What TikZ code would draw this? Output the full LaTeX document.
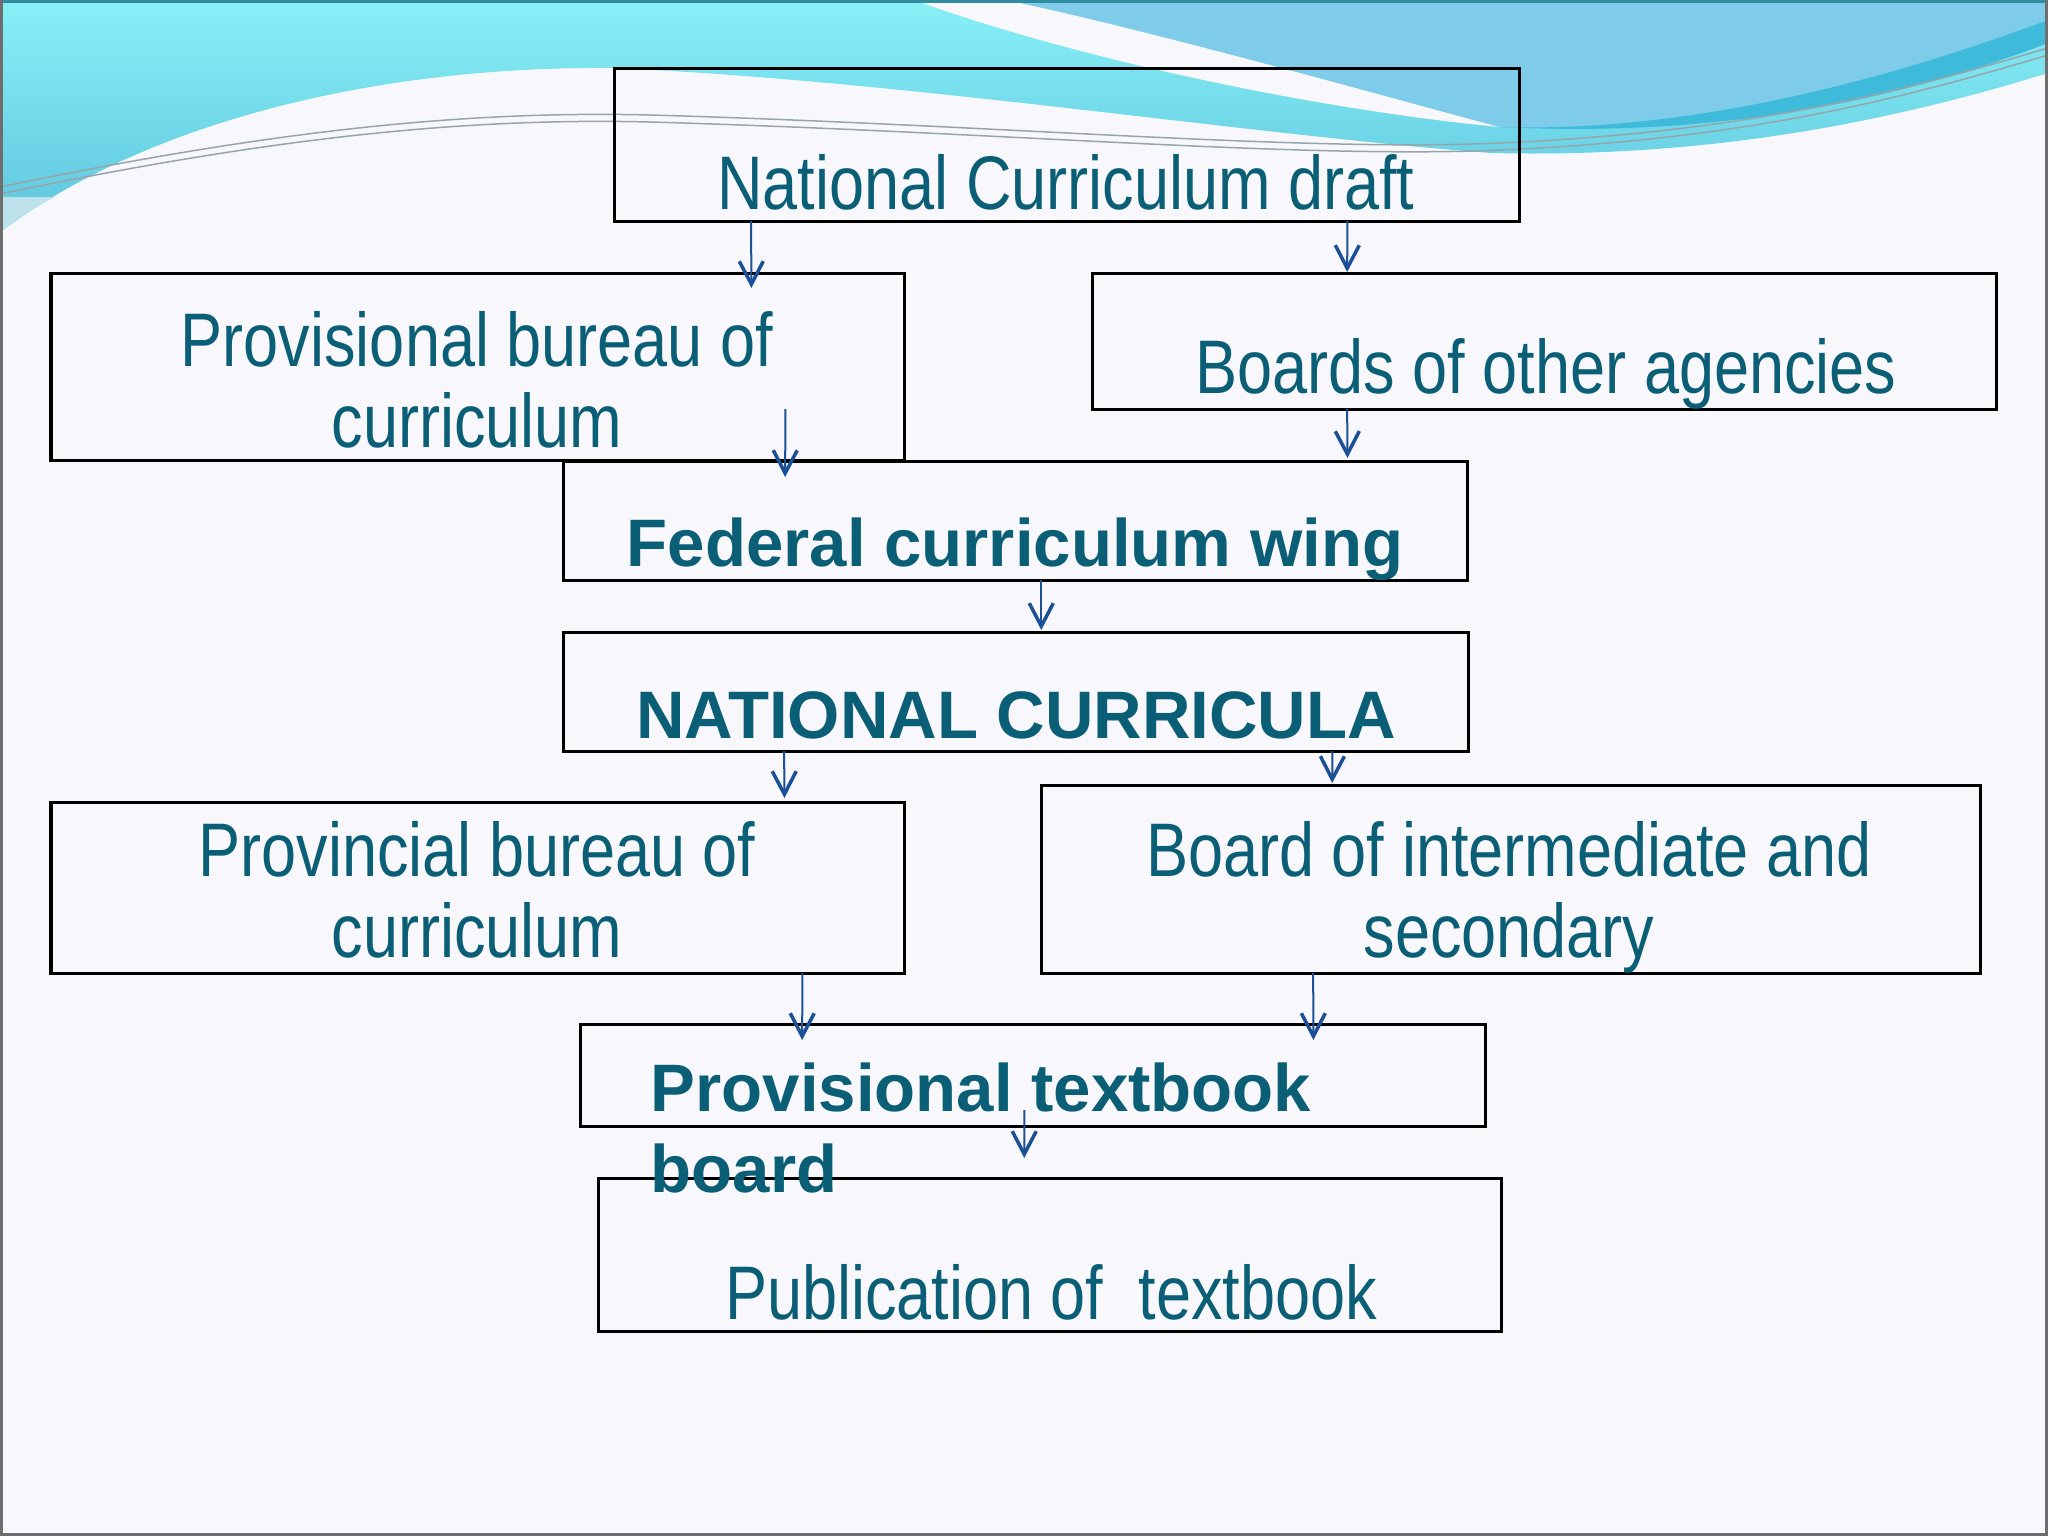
\documentclass[tikz,border=0pt]{standalone}
\usepackage{fontspec}
\setmainfont{Liberation Sans}
\newfontfamily\narrowf[FakeStretch=0.83]{Liberation Sans}
\usetikzlibrary{arrows.meta}
\definecolor{txt}{RGB}{10,94,118}
\definecolor{arrowc}{RGB}{28,80,150}
\definecolor{bg}{RGB}{248,248,252}
\definecolor{cyantop}{RGB}{136,240,246}
\definecolor{cyanbot}{RGB}{94,196,222}
\definecolor{bluereg}{RGB}{126,203,234}
\definecolor{darkband}{RGB}{62,186,219}
\definecolor{pale}{RGB}{190,226,236}
\definecolor{swoosh}{RGB}{150,165,170}
\definecolor{frame}{RGB}{110,110,110}
\definecolor{topline}{RGB}{50,140,160}
\tikzset{
  box/.style={draw=black, line width=0.03cm, inner sep=0pt, outer sep=0pt, anchor=north west},
  reg/.style={font=\narrowf\fontsize{21.6}{23}\selectfont, text=txt, inner sep=0pt, anchor=base, align=center},
  bld/.style={font=\bfseries\fontsize{19.1}{23}\selectfont, text=txt, inner sep=0pt, anchor=base, align=center},
  arr/.style={draw=arrowc, line width=0.02cm, -{Straight Barb[length=0.23cm,width=0.24cm,line width=0.035cm]}},
}
\begin{document}
\begin{tikzpicture}[x=0.01cm,y=-0.01cm]
\useasboundingbox (0,0) rectangle (2048,1536);
\fill[bg] (0,0) rectangle (2048,1536);
% banner
\shade[top color=cyantop, bottom color=cyanbot] (0,0) -- (2048,0) -- (2048,73)
  .. controls (1880,125) and (1700,158) .. (1491,153)
  .. controls (1250,135) and (900,80) .. (612,68)
  .. controls (380,66) and (150,120) .. (0,232) -- cycle;
\fill[pale] (0,197) -- (55,197) .. controls (30,210) and (15,220) .. (0,232) -- cycle;
\fill[bg] (914,0) .. controls (1080,60) and (1320,110) .. (1500,127)
  .. controls (1380,95) and (1150,30) .. (1006,0) -- cycle;
\fill[bluereg] (1006,0) .. controls (1150,30) and (1380,95) .. (1500,127)
  .. controls (1700,133) and (1900,75) .. (2048,20) -- (2048,0) -- cycle;
\fill[darkband] (1500,127) .. controls (1700,133) and (1900,75) .. (2048,20)
  -- (2048,43) .. controls (1900,100) and (1720,138) .. (1500,127) -- cycle;
\draw[swoosh, line width=0.015cm] (0,187) .. controls (250,135) and (450,110) .. (650,115)
  .. controls (1000,125) and (1300,152) .. (1500,143)
  .. controls (1750,132) and (1900,92) .. (2048,48);
\draw[swoosh, line width=0.015cm, yshift=-0.07cm] (0,187) .. controls (250,135) and (450,110) .. (650,115)
  .. controls (1000,125) and (1300,152) .. (1500,143)
  .. controls (1750,132) and (1900,92) .. (2048,48);
\draw[topline, line width=0.03cm] (0,1.5) -- (2048,1.5);
\draw[frame, line width=0.03cm] (1.5,0) -- (1.5,1534.5) -- (2046.5,1534.5) -- (2046.5,0);

% boxes
\node[box, minimum width=9.05cm, minimum height=1.53cm] (b1) at (614,68) {};
\node[box, minimum width=8.53cm, minimum height=1.87cm] (b2) at (51,273) {};
\node[box, minimum width=9.04cm, minimum height=1.36cm] (b3) at (1092,273) {};
\node[box, minimum width=9.04cm, minimum height=1.19cm] (b4) at (563,461) {};
\node[box, minimum width=9.05cm, minimum height=1.19cm] (b5) at (563,632) {};
\node[box, minimum width=8.53cm, minimum height=1.71cm] (b6) at (51,802) {};
\node[box, minimum width=9.39cm, minimum height=1.88cm] (b7) at (1041,785) {};
\node[box, minimum width=9.05cm, minimum height=1.02cm] (b8) at (580,1024) {};
\node[box, minimum width=9.03cm, minimum height=1.53cm] (b9) at (598,1178) {};

% arrows
\draw[arr] ([xshift=1.37cm]b1.south west) -- ([xshift=7.00cm,yshift=-0.15cm]b2.north west);
\draw[arr] ([xshift=7.33cm]b1.south west) -- ([xshift=2.55cm,yshift=0.01cm]b3.north west);
\draw[arr] ([xshift=7.34cm,yshift=0.51cm]b2.south west) -- ([xshift=2.22cm,yshift=-0.16cm]b4.north west);
\draw[arr] ([xshift=2.55cm]b3.south west) -- ([xshift=7.84cm,yshift=0.03cm]b4.north west);
\draw[arr] ([xshift=4.78cm]b4.south west) -- ([xshift=4.78cm,yshift=0.02cm]b5.north west);
\draw[arr] ([xshift=2.21cm]b5.south west) -- ([xshift=7.33cm,yshift=0.04cm]b6.north west);
\draw[arr] ([xshift=7.69cm]b5.south west) -- ([xshift=2.91cm,yshift=0.02cm]b7.north west);
\draw[arr] ([xshift=7.51cm]b6.south west) -- ([xshift=2.22cm,yshift=-0.16cm]b8.north west);
\draw[arr] ([xshift=2.72cm]b7.south west) -- ([xshift=7.33cm,yshift=-0.16cm]b8.north west);
\draw[arr] ([xshift=4.44cm,yshift=0.16cm]b8.south west) -- ([xshift=4.26cm,yshift=0.20cm]b9.north west);

% texts (two-line nodes are placed by the baseline of their last line)
\node[reg] (t1) at (1066,209) {National Curriculum draft};
\node[reg] (t2) at (477,447) {Provisional bureau of\\curriculum};
\node[reg] (t3) at (1546,393) {Boards of other agencies};
\node[bld] (t4) at (1015,566) {Federal curriculum wing};
\node[bld] (t5) at (1016,738) {NATIONAL CURRICULA};
\node[reg] (t6) at (477,957) {Provincial bureau of\\curriculum};
\node[reg] (t7) at (1509,957) {Board of intermediate and\\secondary};
\node[bld, anchor=base west, align=left] (t8) at (650,1192) {Provisional textbook\\board};
\node[reg] (t9) at (1051,1319) {Publication of\ \ textbook};
\end{tikzpicture}
\end{document}
